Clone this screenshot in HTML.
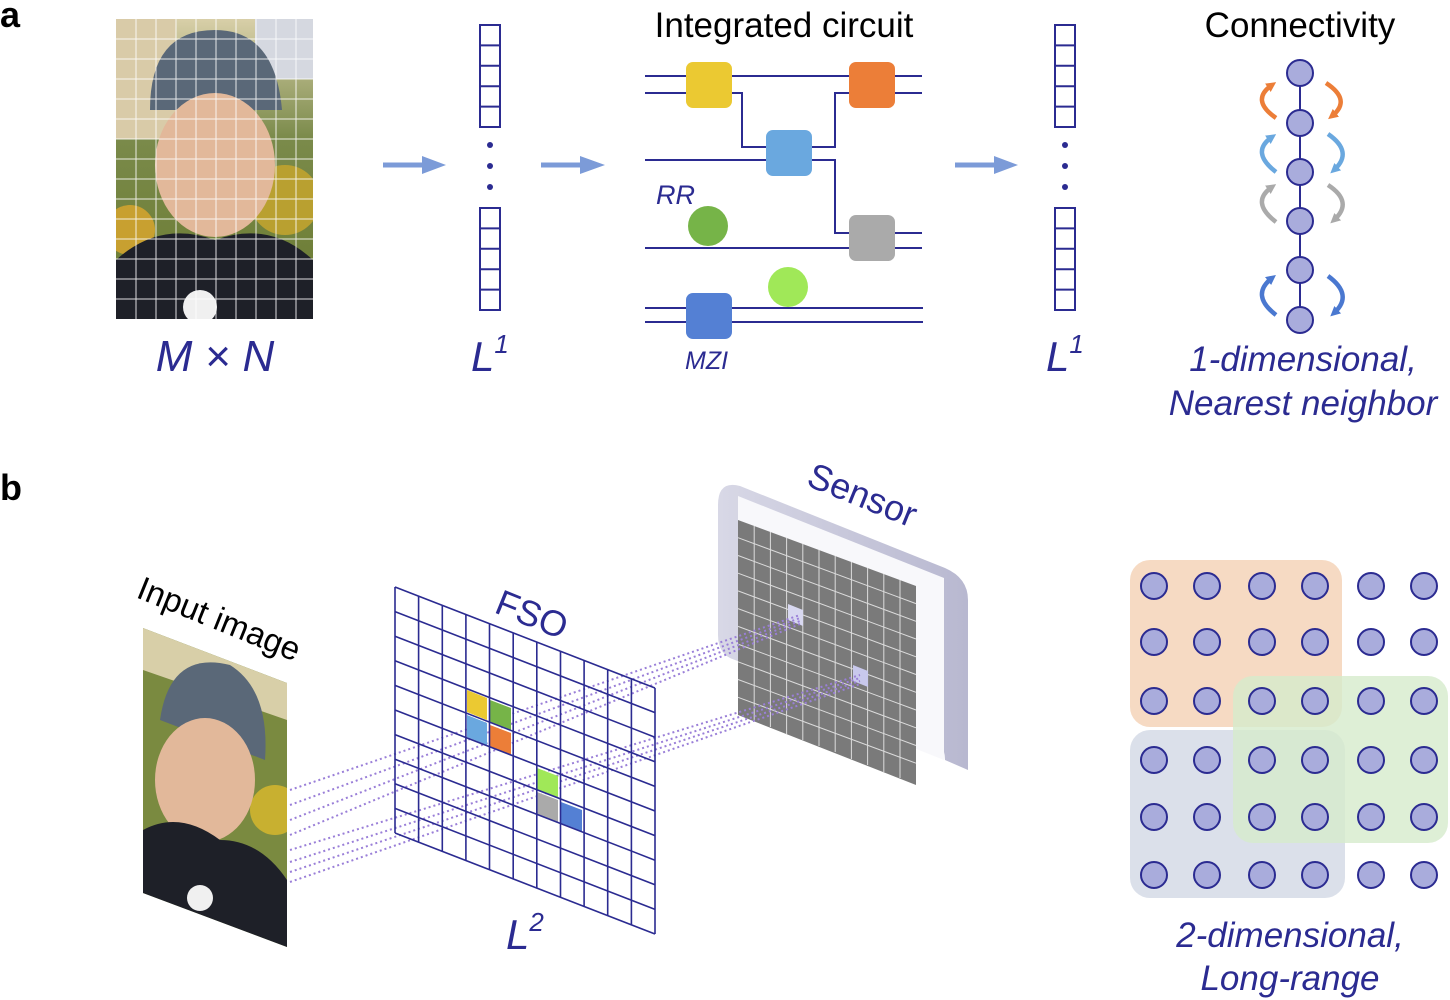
<!DOCTYPE html>
<html><head><meta charset="utf-8"><style>
html,body{margin:0;padding:0;background:#fff;}
svg{display:block;}
text{font-family:"Liberation Sans",sans-serif;}
</style></head><body>
<svg width="1450" height="1000" viewBox="0 0 1450 1000" xmlns="http://www.w3.org/2000/svg">
<defs>
<marker id="ah" markerWidth="10" markerHeight="10" refX="5" refY="5" orient="auto" markerUnits="userSpaceOnUse"><path d="M0,0 L10,5 L0,10 z" fill="context-stroke"/></marker>
<clipPath id="ph1"><rect x="116" y="19" width="197" height="300"/></clipPath>
<clipPath id="ph2"><polygon points="143,628 287,683 287,947 143,893"/></clipPath>
<linearGradient id="bg1" x1="0" y1="0" x2="0" y2="1"><stop offset="0" stop-color="#d8cfa8"/><stop offset="0.4" stop-color="#7a8a4a"/><stop offset="1" stop-color="#6a7a30"/></linearGradient>
<linearGradient id="fr" x1="0" y1="0" x2="1" y2="0"><stop offset="0" stop-color="#d8d8e6"/><stop offset="1" stop-color="#b8b8d0"/></linearGradient>
</defs>

<text x="0" y="27" font-size="36" font-weight="bold">a</text>
<text x="0" y="500" font-size="36" font-weight="bold">b</text>

<g clip-path="url(#ph1)">
<rect x="116" y="19" width="197" height="300" fill="url(#bg1)"/>
<rect x="116" y="19" width="60" height="120" fill="#d9cba8"/>
<rect x="255" y="19" width="58" height="60" fill="#d5d8e0"/>
<circle cx="285" cy="200" r="35" fill="#b9a030"/>
<circle cx="130" cy="230" r="25" fill="#c8a030"/>
<path d="M150,110 Q150,30 215,30 Q275,30 282,110 Z" fill="#5a6878"/>
<ellipse cx="215" cy="165" rx="60" ry="72" fill="#e2b89a"/>
<path d="M116,260 Q160,220 215,240 Q270,220 313,260 L313,319 L116,319 Z" fill="#1e2028"/>
<circle cx="200" cy="307" r="17" fill="#f0f0f0"/>
<g stroke="#fff" stroke-width="1" opacity="0.85">
<path d="M136,19V319M156,19V319M176,19V319M196,19V319M216,19V319M236,19V319M256,19V319M276,19V319M296,19V319"/>
<path d="M116,39H313M116,59H313M116,79H313M116,99H313M116,119H313M116,139H313M116,159H313M116,179H313M116,199H313M116,219H313M116,239H313M116,259H313M116,279H313M116,299H313"/>
</g>
</g>
<text x="215" y="371" font-size="44" font-style="italic" fill="#2b2b91" text-anchor="middle">M × N</text>

<g stroke="#7c9bd8" stroke-width="5" fill="#7c9bd8">
<line x1="383" y1="165" x2="425" y2="165"/><polygon points="422,156 446,165 422,174" stroke="none"/>
<line x1="541" y1="165" x2="583" y2="165"/><polygon points="580,156 605,165 580,174" stroke="none"/>
<line x1="955" y1="165" x2="997" y2="165"/><polygon points="994,156 1018,165 994,174" stroke="none"/>
</g>

<g fill="none" stroke="#2b2b91" stroke-width="2">
<rect x="480" y="25" width="20" height="102"/><path d="M480,45.4H500M480,65.8H500M480,86.2H500M480,106.6H500"/>
<rect x="480" y="208" width="20" height="102"/><path d="M480,228.4H500M480,248.8H500M480,269.2H500M480,289.6H500"/>
<rect x="1055" y="25" width="20" height="102"/><path d="M1055,45.4H1075M1055,65.8H1075M1055,86.2H1075M1055,106.6H1075"/>
<rect x="1055" y="208" width="20" height="102"/><path d="M1055,228.4H1075M1055,248.8H1075M1055,269.2H1075M1055,289.6H1075"/>
</g>
<g fill="#2b2b91"><circle cx="490" cy="145" r="3"/><circle cx="490" cy="166" r="3"/><circle cx="490" cy="187" r="3"/>
<circle cx="1065" cy="145" r="3"/><circle cx="1065" cy="166" r="3"/><circle cx="1065" cy="187" r="3"/></g>
<text x="471" y="371" font-size="42" font-style="italic" fill="#2b2b91">L<tspan font-size="26" dy="-18">1</tspan></text>
<text x="1046" y="371" font-size="42" font-style="italic" fill="#2b2b91">L<tspan font-size="26" dy="-18">1</tspan></text>

<text x="784" y="37" font-size="35" text-anchor="middle">Integrated circuit</text>
<g fill="none" stroke="#2b2b91" stroke-width="2">
<path d="M645,76H922"/>
<path d="M645,93H700M732,93H742V147H780M812,147H835V93H922"/>
<path d="M645,160H780M812,160H835V233H922"/>
<path d="M645,248H922"/>
<path d="M645,308H923M645,322H923"/>
</g>
<rect x="686" y="62" width="46" height="46" rx="7" fill="#ebc932"/>
<rect x="849" y="62" width="46" height="46" rx="7" fill="#ec7e38"/>
<rect x="766" y="130" width="46" height="46" rx="7" fill="#6aa8df"/>
<rect x="849" y="215" width="46" height="46" rx="7" fill="#aaaaaa"/>
<rect x="686" y="293" width="46" height="46" rx="7" fill="#5480d4"/>
<circle cx="708" cy="226" r="20" fill="#76b448"/>
<circle cx="788" cy="287" r="20" fill="#a0e858"/>
<text x="656" y="204" font-size="27" font-style="italic" fill="#2b2b91">RR</text>
<text x="685" y="369" font-size="25" font-style="italic" fill="#2b2b91">MZI</text>

<text x="1300" y="37" font-size="35" text-anchor="middle">Connectivity</text>
<line x1="1300" y1="73" x2="1300" y2="320" stroke="#2b2b91" stroke-width="2"/>
<g fill="#a9acdc" stroke="#2b2b91" stroke-width="2">
<circle cx="1300" cy="73" r="13"/><circle cx="1300" cy="123" r="13"/><circle cx="1300" cy="172" r="13"/><circle cx="1300" cy="221" r="13"/><circle cx="1300" cy="270" r="13"/><circle cx="1300" cy="320" r="13"/>
</g>
<g fill="none" stroke-width="4.5">
<path d="M1276,118 Q1250,100 1272,85" stroke="#ec7e38" marker-end="url(#ah)"/>
<path d="M1326,83 Q1352,100 1332,116" stroke="#ec7e38" marker-end="url(#ah)"/>
<path d="M1276,172 Q1250,152 1272,137" stroke="#6aa8df" marker-end="url(#ah)"/>
<path d="M1328,134 Q1354,152 1334,170" stroke="#6aa8df" marker-end="url(#ah)"/>
<path d="M1276,222 Q1250,202 1272,187" stroke="#aaaaaa" marker-end="url(#ah)"/>
<path d="M1328,185 Q1354,202 1334,220" stroke="#aaaaaa" marker-end="url(#ah)"/>
<path d="M1276,315 Q1250,295 1272,278" stroke="#4a78d0" marker-end="url(#ah)"/>
<path d="M1328,276 Q1354,295 1334,313" stroke="#4a78d0" marker-end="url(#ah)"/>
</g>
<text x="1303" y="371" font-size="35" font-style="italic" fill="#2b2b91" text-anchor="middle">1-dimensional,</text>
<text x="1303" y="415" font-size="35" font-style="italic" fill="#2b2b91" text-anchor="middle">Nearest neighbor</text>

<path d="M740,486 L945,568 Q968,578 968,600 L968,770 L945,760 Q945,740 925,735 L735,660 Q718,655 718,635 L718,505 Q718,480 740,486 Z" fill="url(#fr)"/>
<path d="M738,496 L944,578 L944,760 L738,678 Z" fill="#f8f8fb"/>
<polygon points="738,520 916,586 916,785 738,715" fill="#7a7a7a"/>
<g stroke="#dcdcdc" stroke-width="1">
<path d="M754.2,526V721M770.4,532V727M786.6,538V734M802.8,544V740M819,550V746M835.2,556V752M851.4,562V759M867.6,568V765M883.8,574V772M900,580V778"/>
<path d="M738,537.7L916,603.6M738,555.5L916,621.3M738,573.2L916,639M738,590.9L916,656.8M738,608.6L916,674.5M738,626.4L916,692.3M738,644.1L916,710M738,661.8L916,727.8M738,679.5L916,745.5M738,697.3L916,763.2"/>
</g>
<polygon points="788,604 803,610 803,626 788,620" fill="#d8d8f0"/>
<polygon points="853,665 868,671 868,687 853,681" fill="#c8c8ec"/>
<text transform="translate(805,485) rotate(22)" font-size="36" fill="#2b2b91">Sensor</text>

<g stroke="#9a7fd8" stroke-width="2" stroke-dasharray="2,3" fill="none">
<path d="M290,790L800,615"/><path d="M290,805L800,618"/><path d="M290,820L800,621"/><path d="M290,835L800,624"/>
<path d="M290,850L860,675"/><path d="M290,862L860,678"/><path d="M290,872L860,681"/><path d="M290,882L860,684"/>
</g>

<polygon points="467,690 487,698 487,720 467,712" fill="#ebc932"/>
<polygon points="490,700 511,708 511,730 490,722" fill="#76b448"/>
<polygon points="467,715 487,723 487,745 467,737" fill="#6aa8df"/>
<polygon points="490,725 511,733 511,755 490,747" fill="#ec7e38"/>
<polygon points="537,768 558,776 558,798 537,790" fill="#a0e858"/>
<polygon points="537,792 558,800 558,822 537,814" fill="#aaaaaa"/>
<polygon points="561,802 582,810 582,832 561,824" fill="#5480d4"/>
<g fill="none" stroke="#2b2b91" stroke-width="1.6">
<path d="M395,587V833M418.6,596.2V842.2M442.3,605.4V851.4M465.9,614.5V860.5M489.5,623.7V869.7M513.2,632.9V878.9M536.8,642.1V888.1M560.5,651.3V897.3M584.1,660.5V906.5M607.7,669.6V915.6M631.4,678.8V924.8M655,688V934"/>
<path d="M395,587L655,688M395,611.6L655,712.6M395,636.2L655,737.2M395,660.8L655,761.8M395,685.4L655,786.4M395,710L655,811M395,734.6L655,835.6M395,759.2L655,860.2M395,783.8L655,884.8M395,808.4L655,909.4M395,833L655,934"/>
</g>
<text transform="translate(493,612) rotate(22)" font-size="36" fill="#2b2b91">FSO</text>
<text x="506" y="949" font-size="42" font-style="italic" fill="#2b2b91">L<tspan font-size="26" dy="-18">2</tspan></text>

<g clip-path="url(#ph2)">
<rect x="140" y="620" width="150" height="330" fill="#7a8a40"/>
<polygon points="143,628 287,683 287,720 143,670" fill="#d8cfa8"/>
<circle cx="275" cy="810" r="25" fill="#c8b030"/>
<path d="M160,720 Q170,650 230,665 Q270,690 265,760 Z" fill="#5a6878"/>
<ellipse cx="205" cy="780" rx="50" ry="62" fill="#e2b89a"/>
<path d="M143,830 Q180,810 220,840 Q260,840 287,880 L287,950 L143,950 Z" fill="#1e2028"/>
<circle cx="200" cy="898" r="13" fill="#f0f0f0"/>
</g>
<text transform="translate(135,597) rotate(22)" font-size="33">Input image</text>

<rect x="1130" y="560" width="212" height="167" rx="20" fill="#f5d6bc" opacity="0.9"/>
<rect x="1130" y="730" width="215" height="168" rx="20" fill="#d5dbe6" opacity="0.85"/>
<rect x="1233" y="676" width="215" height="167" rx="20" fill="#d6ebcc" opacity="0.8"/>
<g fill="#a9acdc" stroke="#2b2b91" stroke-width="2">
<circle cx="1154" cy="586" r="13"/><circle cx="1207" cy="586" r="13"/><circle cx="1262" cy="586" r="13"/><circle cx="1315" cy="586" r="13"/><circle cx="1371" cy="586" r="13"/><circle cx="1424" cy="586" r="13"/>
<circle cx="1154" cy="642" r="13"/><circle cx="1207" cy="642" r="13"/><circle cx="1262" cy="642" r="13"/><circle cx="1315" cy="642" r="13"/><circle cx="1371" cy="642" r="13"/><circle cx="1424" cy="642" r="13"/>
<circle cx="1154" cy="701" r="13"/><circle cx="1207" cy="701" r="13"/><circle cx="1262" cy="701" r="13"/><circle cx="1315" cy="701" r="13"/><circle cx="1371" cy="701" r="13"/><circle cx="1424" cy="701" r="13"/>
<circle cx="1154" cy="760" r="13"/><circle cx="1207" cy="760" r="13"/><circle cx="1262" cy="760" r="13"/><circle cx="1315" cy="760" r="13"/><circle cx="1371" cy="760" r="13"/><circle cx="1424" cy="760" r="13"/>
<circle cx="1154" cy="817" r="13"/><circle cx="1207" cy="817" r="13"/><circle cx="1262" cy="817" r="13"/><circle cx="1315" cy="817" r="13"/><circle cx="1371" cy="817" r="13"/><circle cx="1424" cy="817" r="13"/>
<circle cx="1154" cy="875" r="13"/><circle cx="1207" cy="875" r="13"/><circle cx="1262" cy="875" r="13"/><circle cx="1315" cy="875" r="13"/><circle cx="1371" cy="875" r="13"/><circle cx="1424" cy="875" r="13"/>
</g>
<text x="1290" y="947" font-size="35" font-style="italic" fill="#2b2b91" text-anchor="middle">2-dimensional,</text>
<text x="1290" y="990" font-size="35" font-style="italic" fill="#2b2b91" text-anchor="middle">Long-range</text>
</svg>
</body></html>
